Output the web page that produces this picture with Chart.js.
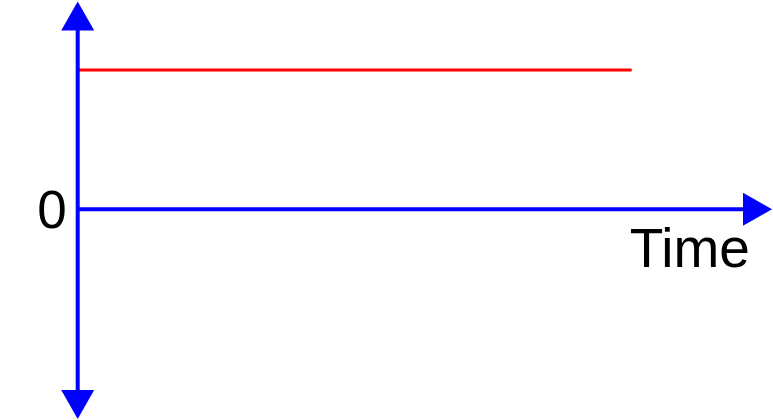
<!DOCTYPE html>
<html>
<head>
<meta charset="utf-8">
<script src="https://cdn.jsdelivr.net/npm/chart.js@4"></script>
<style>
  html, body { margin: 0; padding: 0; background: #fff; }
  canvas { display: block; }
</style>
</head>
<body>
<canvas id="chart" width="773" height="420"></canvas>
<script>
// Signal data (constant level over time)
const timeValues = [0, 5.54];
const signalValues = [1, 1];

// Axis ranges and labels
const timeRange = [-0.777, 6.953];
const levelRange = [-1.513, 1.503];
const zeroLabel = '0';
const timeLabel = 'Time';

const axisColor = '#0000ff';

// Plugin to draw the arrowed axes and their labels
const arrowAxes = {
    id: 'arrowAxes',
    afterDraw(chart) {
        const ctx = chart.ctx;
        const xs = chart.scales.x;
        const ys = chart.scales.y;
        const x0 = xs.getPixelForValue(0);
        const y0 = ys.getPixelForValue(0);
        const top = ys.getPixelForValue(levelRange[1]);
        const bottom = ys.getPixelForValue(levelRange[0]);
        const right = xs.getPixelForValue(timeRange[1]);
        const head = 29, half = 16.5;

        ctx.save();
        ctx.strokeStyle = axisColor;
        ctx.fillStyle = axisColor;
        ctx.lineWidth = 4;

        // vertical axis
        ctx.beginPath();
        ctx.moveTo(x0, top + head);
        ctx.lineTo(x0, bottom - head);
        ctx.stroke();
        // horizontal axis
        ctx.beginPath();
        ctx.moveTo(x0, y0);
        ctx.lineTo(right - head, y0);
        ctx.stroke();

        // arrow heads
        ctx.beginPath();
        ctx.moveTo(x0, top + 1.5);
        ctx.lineTo(x0 - half, top + head + 1.5);
        ctx.lineTo(x0 + half, top + head + 1.5);
        ctx.closePath();
        ctx.fill();

        ctx.beginPath();
        ctx.moveTo(x0, bottom - 1);
        ctx.lineTo(x0 - half, bottom - head - 1);
        ctx.lineTo(x0 + half, bottom - head - 1);
        ctx.closePath();
        ctx.fill();

        ctx.beginPath();
        ctx.moveTo(right - 1, y0);
        ctx.lineTo(right - head - 1, y0 - half);
        ctx.lineTo(right - head - 1, y0 + half);
        ctx.closePath();
        ctx.fill();

        // labels
        ctx.fillStyle = '#000';
        ctx.textBaseline = 'alphabetic';
        ctx.font = '53px "Liberation Sans", Arial, sans-serif';
        ctx.textAlign = 'right';
        ctx.fillText(zeroLabel, x0 - 11, y0 + 19);
        ctx.font = '55px "Liberation Sans", Arial, sans-serif';
        ctx.textAlign = 'left';
        ctx.fillText(timeLabel, xs.getPixelForValue(timeValues[1]) - 2, y0 + 58);
        ctx.restore();
    }
};

new Chart(document.getElementById('chart').getContext('2d'), {
    type: 'line',
    data: {
        datasets: [{
            data: timeValues.map((t, i) => ({ x: t, y: signalValues[i] })),
            borderColor: '#ff0000',
            borderWidth: 3,
            pointRadius: 0,
            fill: false
        }]
    },
    options: {
        responsive: false,
        animation: false,
        layout: { padding: 0 },
        scales: {
            x: { type: 'linear', min: timeRange[0], max: timeRange[1], display: false },
            y: { type: 'linear', min: levelRange[0], max: levelRange[1], display: false }
        },
        plugins: {
            legend: { display: false },
            tooltip: { enabled: false }
        }
    },
    plugins: [arrowAxes]
});
</script>
</body>
</html>
